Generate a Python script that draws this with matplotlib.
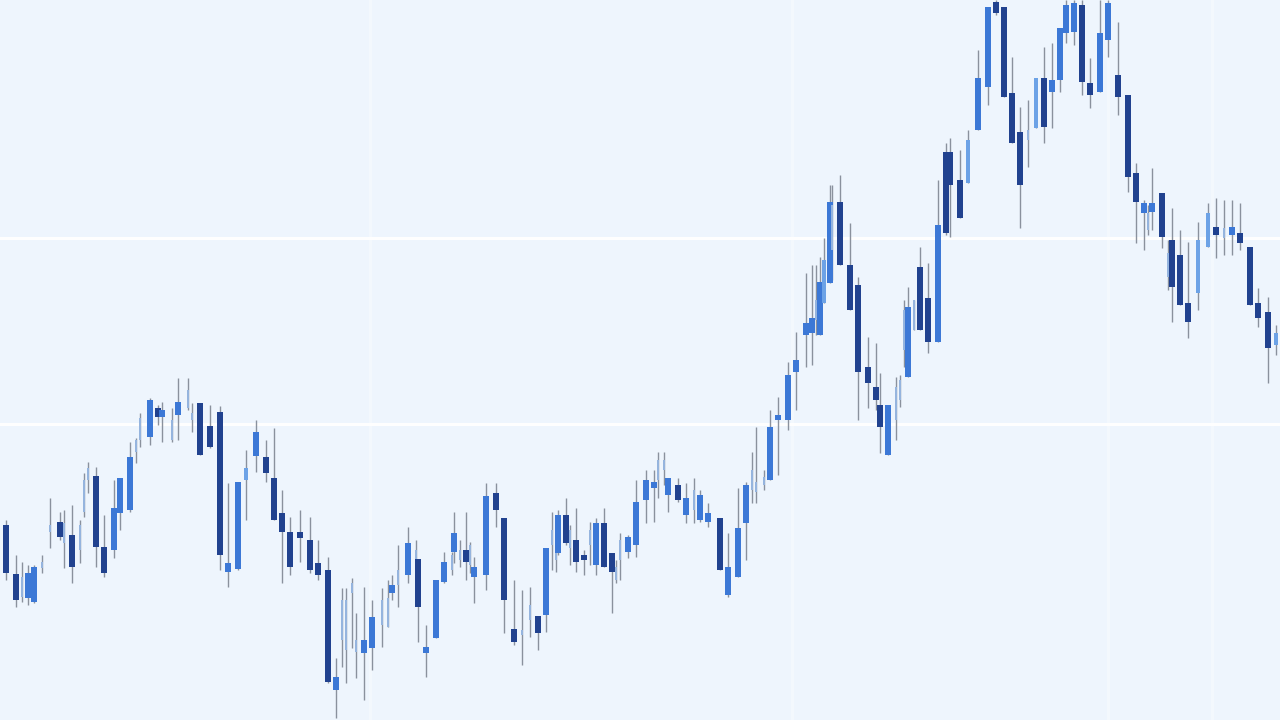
import matplotlib
matplotlib.use("Agg")
import matplotlib.pyplot as plt
import numpy as np

# session index of each candle
times = [
    3, 8, 11, 14, 17, 21, 25, 30, 32, 36,
    40, 42, 44, 48, 52, 57, 60, 65, 68, 70,
    75, 79, 81, 86, 89, 94, 96, 100, 105, 110,
    114, 119, 123, 128, 133, 137, 141, 145, 150, 155,
    159, 164, 168, 171, 173, 176, 178, 182, 186, 191,
    194, 196, 199, 204, 208, 209, 213, 218, 222, 226,
    227, 230, 233, 235, 237, 243, 248, 252, 257, 261,
    265, 269, 273, 276, 278, 279, 283, 285, 288, 292,
    295, 298, 302, 306, 308, 310, 314, 318, 323, 327,
    329, 332, 334, 339, 343, 347, 350, 354, 360, 364,
    369, 373, 376, 378, 382, 385, 389, 394, 398, 403,
    406, 408, 410, 412, 415, 416, 420, 425, 429, 434,
    438, 440, 444, 448, 450, 452, 454, 457, 460, 464,
    469, 473, 475, 480, 484, 489, 494, 498, 502, 506,
    510, 514, 518, 522, 526, 530, 533, 537, 541, 545,
    550, 554, 559, 564, 568, 572, 574, 576, 581, 584,
    586, 590, 594, 599, 604, 608, 612, 616, 620, 625,
    629, 634, 638,
]

opens = [
    119.5, 114.6, 112.3, 112.2, 111.8, 115.2, 118.8, 119.8, 117.7, 118.5,
    117.0, 120.8, 124.0, 124.4, 117.3, 117.0, 120.7, 121.0, 126.8, 128.0,
    128.3, 131.2, 130.3, 128.0, 130.5, 131.2, 130.0, 131.7, 129.4, 130.8,
    114.8, 115.1, 124.0, 126.4, 126.3, 124.2, 120.7, 118.8, 118.8, 118.0,
    115.7, 115.0, 103.0, 108.0, 107.0, 112.7, 106.8, 106.7, 107.2, 109.5,
    109.3, 112.7, 113.5, 114.5, 115.5, 116.1, 106.7, 108.2, 113.8, 115.0,
    116.8, 116.0, 117.0, 115.5, 114.3, 114.5, 122.7, 120.2, 109.1, 108.5,
    110.0, 110.4, 110.5, 117.5, 116.0, 116.7, 120.5, 117.2, 118.0, 116.5,
    117.5, 115.5, 119.7, 116.7, 114.0, 116.0, 116.8, 117.5, 122.0, 123.2,
    124.0, 125.0, 122.5, 123.5, 120.5, 121.0, 120.0, 119.8, 120.2, 112.5,
    114.3, 119.7, 123.0, 122.8, 123.5, 124.0, 130.0, 130.0, 134.8, 138.5,
    138.7, 140.0, 138.5, 141.7, 143.7, 147.0, 151.8, 145.5, 143.5, 135.3,
    133.3, 131.5, 126.5, 130.0, 132.0, 137.0, 134.3, 139.0, 145.3, 142.2,
    137.8, 156.8, 156.8, 154.0, 153.7, 159.0, 163.3, 171.8, 171.3, 162.7,
    158.8, 158.0, 159.2, 164.2, 162.8, 164.0, 168.7, 168.8, 171.5, 163.7,
    162.8, 168.0, 164.5, 162.5, 154.7, 150.7, 149.0, 150.8, 152.7, 144.3,
    148.0, 146.5, 141.7, 142.7, 147.3, 149.3, 148.2, 148.5, 148.7, 147.3,
    141.7, 140.8, 137.5,
]

highs = [
    120.0, 116.5, 115.8, 115.5, 115.5, 116.5, 122.2, 120.8, 121.0, 121.5,
    120.0, 124.7, 125.8, 125.3, 120.5, 124.0, 124.2, 127.8, 128.2, 130.7,
    132.2, 131.5, 131.8, 131.2, 134.2, 134.2, 131.7, 131.7, 131.5, 131.4,
    123.7, 123.8, 127.0, 130.0, 128.0, 129.2, 123.0, 120.3, 121.0, 120.3,
    118.0, 116.3, 106.2, 113.2, 113.2, 114.2, 110.7, 113.3, 112.0, 113.2,
    114.0, 114.5, 117.5, 119.3, 118.0, 116.1, 109.5, 114.0, 116.8, 116.8,
    120.8, 118.0, 120.8, 117.8, 116.3, 123.7, 123.7, 120.2, 114.0, 113.0,
    113.3, 110.4, 117.2, 120.8, 118.5, 121.0, 122.2, 119.5, 121.2, 117.0,
    119.8, 120.2, 121.2, 116.7, 116.0, 118.7, 118.5, 124.0, 125.0, 125.0,
    126.8, 126.8, 124.2, 124.2, 123.7, 124.2, 123.0, 121.7, 120.2, 118.7,
    123.2, 123.8, 126.8, 129.3, 125.0, 131.0, 132.3, 135.8, 138.8, 144.7,
    145.5, 145.5, 146.3, 148.2, 153.5, 153.5, 154.5, 149.7, 144.3, 138.3,
    137.7, 134.7, 131.5, 134.3, 134.5, 142.0, 143.3, 142.0, 147.3, 145.7,
    154.0, 157.7, 158.2, 157.0, 159.0, 167.0, 171.3, 172.0, 171.3, 166.3,
    161.3, 162.0, 164.2, 167.3, 167.7, 169.2, 172.0, 172.0, 172.0, 166.2,
    172.0, 172.0, 169.8, 162.5, 155.7, 152.0, 151.5, 155.2, 152.7, 148.0,
    151.2, 149.0, 147.8, 149.8, 151.7, 152.2, 152.0, 152.0, 151.7, 147.3,
    143.2, 142.3, 139.5,
]

lows = [
    114.0, 111.3, 111.8, 111.5, 111.7, 114.7, 117.2, 118.0, 115.2, 113.7,
    115.7, 120.3, 122.7, 115.3, 114.3, 116.2, 119.0, 120.8, 125.7, 127.3,
    127.5, 129.5, 127.8, 127.8, 128.0, 131.0, 128.8, 126.5, 127.2, 115.0,
    113.3, 115.0, 120.0, 124.8, 123.8, 120.0, 113.7, 114.5, 115.8, 114.7,
    114.0, 103.7, 100.2, 105.3, 103.7, 107.2, 104.2, 102.0, 105.0, 107.3,
    109.3, 112.0, 111.3, 113.7, 114.0, 107.8, 104.3, 108.2, 113.7, 114.5,
    115.7, 115.3, 114.0, 114.7, 111.7, 113.0, 119.3, 108.7, 107.5, 105.5,
    108.3, 107.0, 108.8, 115.0, 114.8, 116.5, 117.5, 115.5, 114.8, 114.5,
    115.5, 114.5, 115.3, 110.7, 113.7, 114.0, 116.2, 116.3, 119.7, 119.8,
    122.2, 123.5, 120.8, 121.8, 119.7, 119.7, 119.8, 119.3, 115.0, 112.3,
    114.3, 116.0, 121.7, 121.7, 123.0, 124.0, 124.5, 129.0, 131.0, 135.3,
    135.5, 138.5, 138.5, 141.7, 143.7, 144.0, 145.5, 141.0, 130.0, 131.2,
    131.0, 126.7, 126.5, 128.0, 131.3, 135.3, 134.3, 139.0, 139.0, 136.7,
    137.8, 148.5, 148.3, 150.2, 153.7, 159.0, 161.5, 170.5, 162.3, 157.7,
    149.2, 155.3, 159.2, 157.7, 159.2, 162.8, 167.7, 167.5, 162.5, 161.2,
    162.8, 166.3, 160.5, 152.8, 147.7, 147.0, 148.5, 149.0, 147.2, 143.0,
    139.8, 141.5, 138.2, 141.0, 147.3, 146.2, 146.5, 146.5, 147.0, 141.5,
    139.3, 133.7, 136.5,
]

closes = [
    114.7, 112.0, 114.3, 114.7, 115.3, 115.8, 119.5, 118.3, 119.7, 115.3,
    119.5, 124.0, 125.2, 117.3, 114.7, 121.2, 124.2, 126.3, 128.0, 130.2,
    132.0, 130.3, 131.0, 130.0, 131.8, 133.0, 130.7, 126.5, 127.3, 116.5,
    115.7, 123.8, 125.2, 128.8, 124.7, 120.0, 118.8, 115.3, 118.2, 115.0,
    114.5, 103.8, 104.3, 112.0, 112.0, 113.7, 108.0, 108.0, 110.3, 112.0,
    112.2, 113.5, 115.0, 117.7, 117.0, 111.3, 107.3, 114.0, 115.8, 116.5,
    118.7, 117.0, 115.8, 117.5, 115.3, 122.4, 121.0, 112.0, 107.8, 109.0,
    111.5, 108.7, 117.2, 119.0, 118.0, 120.5, 117.7, 119.0, 115.8, 116.0,
    119.0, 119.7, 115.3, 114.8, 115.3, 118.0, 118.3, 121.8, 124.0, 123.8,
    126.0, 126.0, 124.2, 122.0, 122.2, 123.0, 122.5, 120.7, 115.0, 115.3,
    119.2, 123.5, 125.0, 123.8, 124.3, 129.3, 130.5, 134.5, 136.0, 139.7,
    140.2, 142.0, 143.8, 146.0, 151.8, 151.5, 145.5, 141.0, 134.8, 133.7,
    132.0, 129.3, 131.5, 133.3, 134.0, 141.0, 141.3, 142.0, 139.0, 137.8,
    149.5, 148.7, 153.5, 150.2, 158.0, 164.2, 171.3, 170.7, 162.3, 157.7,
    153.5, 159.0, 164.2, 159.3, 164.0, 169.2, 171.5, 171.7, 163.8, 162.5,
    168.7, 171.7, 162.3, 154.3, 151.8, 151.7, 150.7, 151.7, 148.3, 146.7,
    143.3, 141.5, 139.8, 148.0, 150.7, 148.5, 149.2, 149.3, 147.7, 141.5,
    140.2, 137.2, 138.7,
]

# tone of each candle: d = navy, m = mid blue, l = light blue, t = thin light
tones = ("ddtmmttdtd" "tttddmmmtt" "mdmtmttddd" "mmlmdddddd" "ddmttttmmt"
         "tmtmtdmmmt" "mtdtmmdddt" "tdmttmdtdd" "tmddttmmmm" "ttmdmtmmdm"
         "mmtttmmmmm" "mtmlmtdddd" "ddmtttmtdd" "mdddlmmddd" "dtldmmmmdd"
         "mmdddmtmdt" "dddlldtmdd" "ddl")

grid_levels = [129.6, 148.2]
faint_columns = [185, 396, 554, 606]

assert len(times) == len(opens) == len(highs) == len(lows) == len(closes) == len(tones)

body_color = {"d": "#21428f", "m": "#3c78d6", "l": "#6ca2e6", "t": "#95b4de"}
body_width = {"d": 2.8, "m": 2.8, "l": 2.3, "t": 1.2}
wick_color = "#8a919d"
bg = "#eef5fd"

fig = plt.figure(figsize=(12.8, 7.2), dpi=100, facecolor=bg)
ax = fig.add_axes([0, 0, 1, 1])
ax.set_facecolor(bg)

for lvl in grid_levels:
    ax.axhline(lvl, color="white", lw=2.2, alpha=0.95, zorder=1)
for col in faint_columns:
    ax.axvline(col, color="white", lw=2.0, alpha=0.35, zorder=1)

t = np.array(times, dtype=float)
o = np.array(opens)
h = np.array(highs)
lo = np.array(lows)
c = np.array(closes)

ax.vlines(t, lo, h, color=wick_color, lw=1.0, zorder=2)

for ti, oi, ci, tone in zip(t, o, c, tones):
    bottom = min(oi, ci)
    height = max(abs(ci - oi), 0.4)
    ax.bar(ti, height, bottom=bottom, width=body_width[tone],
           color=body_color[tone], edgecolor="none", zorder=3)

ax.set_xlim(0, 640)
ax.set_ylim(100, 172)
ax.axis("off")

fig.savefig("out.png", dpi=100, facecolor=bg)
